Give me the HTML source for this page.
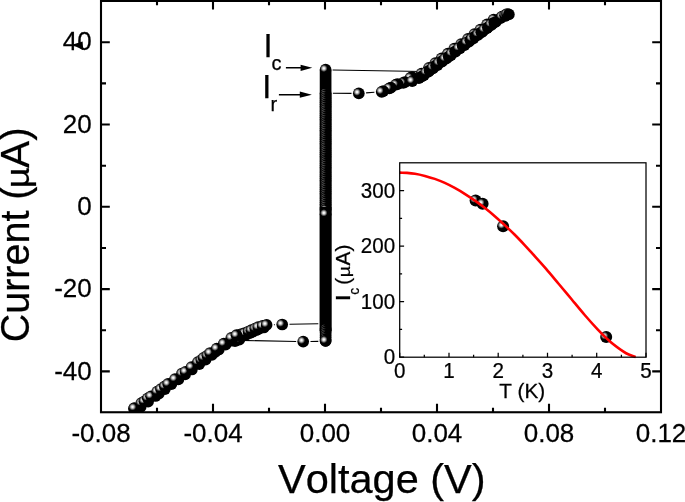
<!DOCTYPE html>
<html lang="en"><head><meta charset="utf-8"><title>Current vs Voltage</title>
<style>html,body{margin:0;padding:0;background:#fff}svg{display:block}text{font-family:"Liberation Sans",Arial,sans-serif;fill:#000;font-kerning:none;stroke:#000;stroke-width:0.25px}</style></head><body>
<svg width="685" height="502" viewBox="0 0 685 502">
<defs>
<radialGradient id="b" cx="0.348" cy="0.384" r="0.31"><stop offset="0" stop-color="#fff"/><stop offset="0.2" stop-color="#f2f2f2"/><stop offset="0.5" stop-color="#aaa"/><stop offset="0.75" stop-color="#505050"/><stop offset="1" stop-color="#000"/></radialGradient>
<radialGradient id="b2" cx="0.36" cy="0.384" r="0.285"><stop offset="0" stop-color="#fff"/><stop offset="0.2" stop-color="#f2f2f2"/><stop offset="0.5" stop-color="#aaa"/><stop offset="0.75" stop-color="#505050"/><stop offset="1" stop-color="#000"/></radialGradient>
<clipPath id="cp"><rect x="101" y="0" width="560" height="412.25"/></clipPath>
</defs>
<rect x="0" y="0" width="685" height="502" fill="#fff"/>
<g clip-path="url(#cp)">
<line x1="332.6" y1="70.0" x2="423.0" y2="71.5" stroke="#000" stroke-width="1.15"/>
<line x1="332.9" y1="93.3" x2="351.5" y2="93.4" stroke="#000" stroke-width="1.15"/>
<line x1="366.1" y1="92.9" x2="374.4" y2="92.3" stroke="#000" stroke-width="1.15"/>
<line x1="318.3" y1="323.8" x2="289.5" y2="324.3" stroke="#000" stroke-width="1.15"/>
<line x1="274.9" y1="324.7" x2="273.9" y2="324.7" stroke="#000" stroke-width="1.15"/>
<line x1="318.3" y1="341.4" x2="310.5" y2="341.5" stroke="#000" stroke-width="1.15"/>
<line x1="296.2" y1="341.5" x2="240.0" y2="340.4" stroke="#000" stroke-width="1.15"/>
<circle cx="424.0" cy="75.1" r="5.85" fill="url(#b)"/>
<circle cx="428.5" cy="71.7" r="5.85" fill="url(#b)"/>
<circle cx="433.0" cy="68.4" r="5.85" fill="url(#b)"/>
<circle cx="437.5" cy="65.0" r="5.85" fill="url(#b)"/>
<circle cx="442.0" cy="61.7" r="5.85" fill="url(#b)"/>
<circle cx="446.5" cy="58.3" r="5.85" fill="url(#b)"/>
<circle cx="451.0" cy="55.0" r="5.85" fill="url(#b)"/>
<circle cx="455.5" cy="51.6" r="5.85" fill="url(#b)"/>
<circle cx="460.0" cy="48.3" r="5.85" fill="url(#b)"/>
<circle cx="464.5" cy="45.0" r="5.85" fill="url(#b)"/>
<circle cx="469.0" cy="41.6" r="5.85" fill="url(#b)"/>
<circle cx="473.5" cy="38.3" r="5.85" fill="url(#b)"/>
<circle cx="478.0" cy="34.9" r="5.85" fill="url(#b)"/>
<circle cx="482.5" cy="31.6" r="5.85" fill="url(#b)"/>
<circle cx="487.0" cy="28.2" r="5.85" fill="url(#b)"/>
<circle cx="491.5" cy="24.9" r="5.85" fill="url(#b)"/>
<circle cx="496.0" cy="21.5" r="5.85" fill="url(#b)"/>
<circle cx="500.5" cy="18.2" r="5.85" fill="url(#b)"/>
<circle cx="505.0" cy="16.0" r="5.85" fill="url(#b)"/>
<circle cx="235.0" cy="341.2" r="5.85" fill="url(#b)"/>
<circle cx="239.3" cy="339.6" r="5.85" fill="url(#b)"/>
<circle cx="242.7" cy="335.8" r="5.85" fill="url(#b)"/>
<circle cx="245.9" cy="334.8" r="5.85" fill="url(#b)"/>
<circle cx="249.7" cy="333.1" r="5.85" fill="url(#b)"/>
<circle cx="252.6" cy="331.8" r="5.85" fill="url(#b)"/>
<circle cx="256.4" cy="330.1" r="5.85" fill="url(#b)"/>
<circle cx="259.4" cy="328.7" r="5.85" fill="url(#b)"/>
<circle cx="263.8" cy="327.5" r="5.85" fill="url(#b)"/>
<circle cx="238.8" cy="335.1" r="5.85" fill="url(#b)"/>
<circle cx="231.5" cy="340.7" r="5.85" fill="url(#b)"/>
<circle cx="225.6" cy="344.7" r="5.85" fill="url(#b)"/>
<circle cx="218.8" cy="349.5" r="5.85" fill="url(#b)"/>
<circle cx="215.3" cy="351.9" r="5.85" fill="url(#b)"/>
<circle cx="211.9" cy="354.8" r="5.85" fill="url(#b)"/>
<circle cx="205.6" cy="359.7" r="5.85" fill="url(#b)"/>
<circle cx="199.3" cy="364.2" r="5.85" fill="url(#b)"/>
<circle cx="191.9" cy="369.5" r="5.85" fill="url(#b)"/>
<circle cx="185.1" cy="374.4" r="5.85" fill="url(#b)"/>
<circle cx="178.4" cy="379.4" r="5.85" fill="url(#b)"/>
<circle cx="171.4" cy="384.2" r="5.85" fill="url(#b)"/>
<circle cx="164.9" cy="389.1" r="5.85" fill="url(#b)"/>
<circle cx="158.8" cy="393.7" r="5.85" fill="url(#b)"/>
<circle cx="155.5" cy="396.0" r="5.85" fill="url(#b)"/>
<circle cx="148.1" cy="401.7" r="5.85" fill="url(#b)"/>
<circle cx="140.7" cy="406.8" r="5.85" fill="url(#b)"/>
<circle cx="421.5" cy="73.6" r="5.85" fill="url(#b)"/>
<circle cx="429.0" cy="67.8" r="5.85" fill="url(#b)"/>
<circle cx="435.3" cy="63.1" r="5.85" fill="url(#b)"/>
<circle cx="441.6" cy="58.4" r="5.85" fill="url(#b)"/>
<circle cx="447.9" cy="53.7" r="5.85" fill="url(#b)"/>
<circle cx="454.3" cy="48.6" r="5.85" fill="url(#b)"/>
<circle cx="461.1" cy="44.1" r="5.85" fill="url(#b)"/>
<circle cx="468.0" cy="38.9" r="5.85" fill="url(#b)"/>
<circle cx="474.4" cy="34.1" r="5.85" fill="url(#b)"/>
<circle cx="480.4" cy="29.6" r="5.85" fill="url(#b)"/>
<circle cx="487.1" cy="24.4" r="5.85" fill="url(#b)"/>
<circle cx="493.7" cy="19.5" r="5.85" fill="url(#b)"/>
<circle cx="134.0" cy="408.7" r="5.85" fill="url(#b)"/>
<circle cx="134.3" cy="408.2" r="5.85" fill="url(#b)"/>
<circle cx="141.3" cy="403.2" r="5.85" fill="url(#b)"/>
<circle cx="144.4" cy="401.3" r="5.85" fill="url(#b)"/>
<circle cx="147.8" cy="398.3" r="5.85" fill="url(#b)"/>
<circle cx="151.0" cy="396.3" r="5.85" fill="url(#b)"/>
<circle cx="157.2" cy="391.6" r="5.85" fill="url(#b)"/>
<circle cx="160.9" cy="389.1" r="5.85" fill="url(#b)"/>
<circle cx="164.8" cy="386.4" r="5.85" fill="url(#b)"/>
<circle cx="168.1" cy="383.9" r="5.85" fill="url(#b)"/>
<circle cx="175.0" cy="379.1" r="5.85" fill="url(#b)"/>
<circle cx="182.0" cy="373.5" r="5.85" fill="url(#b)"/>
<circle cx="185.5" cy="371.8" r="5.85" fill="url(#b)"/>
<circle cx="191.5" cy="367.1" r="5.85" fill="url(#b)"/>
<circle cx="197.9" cy="362.2" r="5.85" fill="url(#b)"/>
<circle cx="201.2" cy="360.1" r="5.85" fill="url(#b)"/>
<circle cx="203.6" cy="357.8" r="5.85" fill="url(#b)"/>
<circle cx="207.3" cy="355.6" r="5.85" fill="url(#b)"/>
<circle cx="210.1" cy="353.0" r="5.85" fill="url(#b)"/>
<circle cx="216.7" cy="348.6" r="5.85" fill="url(#b)"/>
<circle cx="223.8" cy="343.7" r="5.85" fill="url(#b)"/>
<circle cx="231.3" cy="337.8" r="5.85" fill="url(#b)"/>
<circle cx="418.9" cy="78.2" r="5.85" fill="url(#b)"/>
<circle cx="421.9" cy="76.3" r="5.85" fill="#000"/>
<circle cx="426.3" cy="72.4" r="5.85" fill="url(#b)"/>
<circle cx="429.5" cy="70.4" r="5.85" fill="#000"/>
<circle cx="433.0" cy="67.4" r="5.85" fill="url(#b)"/>
<circle cx="436.0" cy="65.4" r="5.85" fill="#000"/>
<circle cx="439.0" cy="62.9" r="5.85" fill="url(#b)"/>
<circle cx="442.3" cy="60.8" r="5.85" fill="#000"/>
<circle cx="445.2" cy="58.8" r="5.85" fill="url(#b)"/>
<circle cx="448.7" cy="56.5" r="5.85" fill="#000"/>
<circle cx="451.7" cy="53.5" r="5.85" fill="url(#b)"/>
<circle cx="455.1" cy="51.4" r="5.85" fill="#000"/>
<circle cx="458.9" cy="48.2" r="5.85" fill="url(#b)"/>
<circle cx="462.6" cy="45.7" r="5.85" fill="#000"/>
<circle cx="466.8" cy="42.5" r="5.85" fill="url(#b)"/>
<circle cx="470.2" cy="40.2" r="5.85" fill="#000"/>
<circle cx="471.8" cy="38.6" r="5.85" fill="url(#b)"/>
<circle cx="475.1" cy="36.4" r="5.85" fill="#000"/>
<circle cx="478.1" cy="34.3" r="5.85" fill="url(#b)"/>
<circle cx="481.2" cy="32.3" r="5.85" fill="#000"/>
<circle cx="484.4" cy="29.7" r="5.85" fill="url(#b)"/>
<circle cx="487.8" cy="27.4" r="5.85" fill="#000"/>
<circle cx="491.1" cy="24.4" r="5.85" fill="url(#b)"/>
<circle cx="494.2" cy="22.5" r="5.85" fill="#000"/>
<circle cx="502.0" cy="16.6" r="5.85" fill="url(#b)"/>
<circle cx="505.0" cy="15.3" r="5.85" fill="url(#b)"/>
<circle cx="507.0" cy="14.0" r="5.85" fill="url(#b)"/>
<circle cx="508.9" cy="14.4" r="5.85" fill="#000"/>
<circle cx="241.5" cy="334.2" r="5.85" fill="url(#b)"/>
<circle cx="244.7" cy="333.2" r="5.85" fill="url(#b)"/>
<circle cx="248.5" cy="331.5" r="5.85" fill="url(#b)"/>
<circle cx="251.4" cy="330.2" r="5.85" fill="url(#b)"/>
<circle cx="255.2" cy="328.5" r="5.85" fill="url(#b)"/>
<circle cx="258.2" cy="327.1" r="5.85" fill="url(#b)"/>
<circle cx="262.6" cy="325.9" r="5.85" fill="url(#b)"/>
<circle cx="266.6" cy="324.9" r="5.85" fill="url(#b)"/>
<circle cx="412.0" cy="77.2" r="5.85" fill="#000"/>
<circle cx="410.4" cy="77.9" r="5.85" fill="url(#b)"/>
<circle cx="404.8" cy="82.2" r="5.85" fill="#000"/>
<circle cx="403.2" cy="82.9" r="5.85" fill="url(#b)"/>
<circle cx="397.6" cy="84.0" r="5.85" fill="#000"/>
<circle cx="396.0" cy="84.7" r="5.85" fill="url(#b)"/>
<circle cx="390.9" cy="87.6" r="5.85" fill="#000"/>
<circle cx="389.3" cy="88.3" r="5.85" fill="url(#b)"/>
<circle cx="383.3" cy="91.1" r="5.85" fill="#000"/>
<circle cx="381.7" cy="91.8" r="5.85" fill="url(#b)"/>
<circle cx="282.2" cy="324.5" r="5.85" fill="url(#b)"/>
<circle cx="303.2" cy="341.6" r="5.85" fill="url(#b)"/>
<circle cx="358.8" cy="93.4" r="5.85" fill="url(#b)"/>
<rect x="319.75" y="69.7" width="11.7" height="262" fill="#000"/>
<circle cx="325.6" cy="69.7" r="5.85" fill="url(#b)"/>
<circle cx="325.6" cy="93.3" r="5.85" fill="url(#b2)"/>
<circle cx="325.6" cy="95.1" r="5.85" fill="url(#b2)"/>
<circle cx="325.6" cy="97.0" r="5.85" fill="url(#b2)"/>
<circle cx="325.6" cy="98.8" r="5.85" fill="url(#b2)"/>
<circle cx="325.6" cy="100.7" r="5.85" fill="url(#b2)"/>
<circle cx="325.6" cy="102.5" r="5.85" fill="url(#b2)"/>
<circle cx="325.6" cy="104.4" r="5.85" fill="url(#b2)"/>
<circle cx="325.6" cy="106.2" r="5.85" fill="url(#b2)"/>
<circle cx="325.6" cy="108.1" r="5.85" fill="url(#b2)"/>
<circle cx="325.6" cy="109.9" r="5.85" fill="url(#b2)"/>
<circle cx="325.6" cy="111.8" r="5.85" fill="url(#b2)"/>
<circle cx="325.6" cy="113.6" r="5.85" fill="url(#b2)"/>
<circle cx="325.6" cy="115.5" r="5.85" fill="url(#b2)"/>
<circle cx="325.6" cy="117.3" r="5.85" fill="url(#b2)"/>
<circle cx="325.6" cy="119.2" r="5.85" fill="url(#b2)"/>
<circle cx="325.6" cy="121.0" r="5.85" fill="url(#b2)"/>
<circle cx="325.6" cy="122.9" r="5.85" fill="url(#b2)"/>
<circle cx="325.6" cy="124.7" r="5.85" fill="url(#b2)"/>
<circle cx="325.6" cy="126.6" r="5.85" fill="url(#b2)"/>
<circle cx="325.6" cy="128.4" r="5.85" fill="url(#b2)"/>
<circle cx="325.6" cy="130.3" r="5.85" fill="url(#b2)"/>
<circle cx="325.6" cy="132.1" r="5.85" fill="url(#b2)"/>
<circle cx="325.6" cy="134.0" r="5.85" fill="url(#b2)"/>
<circle cx="325.6" cy="135.8" r="5.85" fill="url(#b2)"/>
<circle cx="325.6" cy="137.7" r="5.85" fill="url(#b2)"/>
<circle cx="325.6" cy="139.5" r="5.85" fill="url(#b2)"/>
<circle cx="325.6" cy="141.4" r="5.85" fill="url(#b2)"/>
<circle cx="325.6" cy="143.2" r="5.85" fill="url(#b2)"/>
<circle cx="325.6" cy="145.1" r="5.85" fill="url(#b2)"/>
<circle cx="325.6" cy="146.9" r="5.85" fill="url(#b2)"/>
<circle cx="325.6" cy="148.8" r="5.85" fill="url(#b2)"/>
<circle cx="325.6" cy="150.6" r="5.85" fill="url(#b2)"/>
<circle cx="325.6" cy="152.5" r="5.85" fill="url(#b2)"/>
<circle cx="325.6" cy="154.3" r="5.85" fill="url(#b2)"/>
<circle cx="325.6" cy="156.2" r="5.85" fill="url(#b2)"/>
<circle cx="325.6" cy="158.0" r="5.85" fill="url(#b2)"/>
<circle cx="325.6" cy="159.9" r="5.85" fill="url(#b2)"/>
<circle cx="325.6" cy="161.7" r="5.85" fill="url(#b2)"/>
<circle cx="325.6" cy="163.6" r="5.85" fill="url(#b2)"/>
<circle cx="325.6" cy="165.4" r="5.85" fill="url(#b2)"/>
<circle cx="325.6" cy="167.3" r="5.85" fill="url(#b2)"/>
<circle cx="325.6" cy="169.1" r="5.85" fill="url(#b2)"/>
<circle cx="325.6" cy="171.0" r="5.85" fill="url(#b2)"/>
<circle cx="325.6" cy="172.8" r="5.85" fill="url(#b2)"/>
<circle cx="325.6" cy="174.7" r="5.85" fill="url(#b2)"/>
<circle cx="325.6" cy="176.5" r="5.85" fill="url(#b2)"/>
<circle cx="325.6" cy="178.4" r="5.85" fill="url(#b2)"/>
<circle cx="325.6" cy="180.2" r="5.85" fill="url(#b2)"/>
<circle cx="325.6" cy="182.1" r="5.85" fill="url(#b2)"/>
<circle cx="325.6" cy="183.9" r="5.85" fill="url(#b2)"/>
<circle cx="325.6" cy="185.8" r="5.85" fill="url(#b2)"/>
<circle cx="325.6" cy="187.6" r="5.85" fill="url(#b2)"/>
<circle cx="325.6" cy="189.5" r="5.85" fill="url(#b2)"/>
<circle cx="325.6" cy="191.3" r="5.85" fill="url(#b2)"/>
<circle cx="325.6" cy="193.2" r="5.85" fill="url(#b2)"/>
<circle cx="325.6" cy="195.0" r="5.85" fill="url(#b2)"/>
<circle cx="325.6" cy="196.9" r="5.85" fill="url(#b2)"/>
<circle cx="325.6" cy="198.7" r="5.85" fill="url(#b2)"/>
<circle cx="325.6" cy="200.6" r="5.85" fill="url(#b2)"/>
<circle cx="325.6" cy="202.4" r="5.85" fill="url(#b2)"/>
<circle cx="325.6" cy="204.3" r="5.85" fill="url(#b2)"/>
<circle cx="325.6" cy="206.1" r="5.85" fill="url(#b2)"/>
<circle cx="325.6" cy="208.0" r="5.85" fill="url(#b2)"/>
<circle cx="325.6" cy="209.8" r="5.85" fill="url(#b2)"/>
<rect x="319.75" y="207" width="11.7" height="124" fill="#000"/>
<circle cx="325.6" cy="329.0" r="5.85" fill="url(#b2)"/>
<circle cx="325.6" cy="330.7" r="5.85" fill="url(#b2)"/>
<circle cx="325.6" cy="332.4" r="5.85" fill="url(#b2)"/>
<circle cx="325.6" cy="334.1" r="5.85" fill="url(#b2)"/>
<circle cx="325.6" cy="335.8" r="5.85" fill="url(#b2)"/>
<circle cx="325.6" cy="337.5" r="5.85" fill="url(#b2)"/>
<circle cx="325.6" cy="339.2" r="5.85" fill="url(#b2)"/>
<circle cx="325.6" cy="340.9" r="5.85" fill="url(#b2)"/>
<circle cx="325.6" cy="340.9" r="5.85" fill="url(#b)"/>
<circle cx="325.6" cy="214.2" r="5.85" fill="url(#b)"/>
<circle cx="412.2" cy="81.1" r="5.85" fill="url(#b)"/>
<circle cx="236.5" cy="335.2" r="5.85" fill="url(#b)"/>
</g>
<rect x="101" y="0.95" width="560" height="411.3" fill="none" stroke="#000" stroke-width="2.1"/>
<path d="M157.0 412.25v-4.4M157.0 0.95v4.4M213.0 412.25v-8.6M213.0 0.95v8.6M269.0 412.25v-4.4M269.0 0.95v4.4M325.0 412.25v-8.6M325.0 0.95v8.6M381.0 412.25v-4.4M381.0 0.95v4.4M437.0 412.25v-8.6M437.0 0.95v8.6M493.0 412.25v-4.4M493.0 0.95v4.4M549.0 412.25v-8.6M549.0 0.95v8.6M605.0 412.25v-4.4M605.0 0.95v4.4M101 371.4h8.8M661 371.4h-8.8M101 330.2h5M661 330.2h-5M101 289.1h8.8M661 289.1h-8.8M101 248.0h5M661 248.0h-5M101 206.8h8.8M661 206.8h-8.8M101 165.7h5M661 165.7h-5M101 124.5h8.8M661 124.5h-8.8M101 83.4h5M661 83.4h-5M101 42.2h8.8M661 42.2h-8.8" stroke="#000" stroke-width="2.1" fill="none"/>
<text transform="translate(101.0,442.4) scale(0.977,1)" font-size="26.6" text-anchor="middle">-0.08</text>
<text transform="translate(213.0,442.4) scale(0.977,1)" font-size="26.6" text-anchor="middle">-0.04</text>
<text transform="translate(325.0,442.4) scale(0.977,1)" font-size="26.6" text-anchor="middle">0.00</text>
<text transform="translate(437.0,442.4) scale(0.977,1)" font-size="26.6" text-anchor="middle">0.04</text>
<text transform="translate(549.0,442.4) scale(0.977,1)" font-size="26.6" text-anchor="middle">0.08</text>
<text transform="translate(661.0,442.4) scale(0.977,1)" font-size="26.6" text-anchor="middle">0.12</text>
<text transform="translate(91.7,50.4) scale(0.977,1)" font-size="26.6" text-anchor="end">40</text>
<text transform="translate(91.7,132.7) scale(0.977,1)" font-size="26.6" text-anchor="end">20</text>
<text transform="translate(91.7,215.0) scale(0.977,1)" font-size="26.6" text-anchor="end">0</text>
<text transform="translate(91.7,297.3) scale(0.977,1)" font-size="26.6" text-anchor="end">-20</text>
<text transform="translate(91.7,379.6) scale(0.977,1)" font-size="26.6" text-anchor="end">-40</text>
<path d="M72.0 44.7 L82.6 41.6 L83.2 49.9 Z" fill="#000"/>
<text x="278" y="493.3" font-size="41.2" textLength="207.6" lengthAdjust="spacingAndGlyphs">Voltage (V)</text>
<text transform="translate(28.9,342.3) rotate(-90)" font-size="41"><tspan x="0" y="0" textLength="155.77" lengthAdjust="spacingAndGlyphs">Current (</tspan><tspan x="154.1" y="0" font-size="33" textLength="20.92" lengthAdjust="spacingAndGlyphs">µ</tspan><tspan x="174.4" y="0" textLength="40.59" lengthAdjust="spacingAndGlyphs">A)</tspan></text>
<text x="263.6" y="56.9" font-size="32.6">I<tspan x="271.6" y="70" font-size="20">c</tspan></text>
<text x="262.2" y="97.7" font-size="32.6">I<tspan x="270.6" y="110.5" font-size="20">r</tspan></text>
<path d="M285.9 67.8H302M278.9 94.7H301" stroke="#000" stroke-width="1.4" fill="none"/>
<path d="M312.3 67.8L300.6 64.7L300.6 70.9ZM311.9 94.7L299.8 91.6L299.8 97.8Z" fill="#000"/>
<rect x="399.7" y="162.8" width="246.3" height="194.39999999999998" fill="#fff" stroke="none"/>
<circle cx="475.6" cy="200.4" r="6" fill="url(#b)"/>
<circle cx="482.6" cy="203.8" r="6" fill="url(#b)"/>
<circle cx="503.1" cy="226.3" r="6" fill="url(#b)"/>
<circle cx="606.2" cy="337.0" r="6" fill="url(#b)"/>
<path d="M399.7 172.6C400.9 172.7 404.5 172.7 407.0 172.9C409.5 173.1 411.9 173.3 414.9 173.8C417.9 174.3 421.6 175.1 424.9 175.9C428.2 176.8 431.5 177.7 434.8 178.9C438.1 180.1 441.5 181.4 444.8 182.9C448.1 184.4 451.4 186.1 454.7 187.9C458.0 189.7 461.4 191.7 464.7 193.8C468.0 195.9 471.3 198.1 474.6 200.4C477.9 202.7 481.3 205.2 484.6 207.8C487.9 210.4 491.2 213.1 494.5 215.9C497.8 218.8 501.2 221.8 504.5 224.9C507.8 228.0 511.2 231.2 514.5 234.5C517.8 237.8 521.3 241.5 524.4 244.8C527.5 248.1 529.3 250.2 532.9 254.2C536.5 258.2 541.6 263.7 545.9 268.7C550.2 273.7 554.5 278.9 558.8 284.0C563.1 289.1 567.5 294.3 571.8 299.5C576.1 304.7 580.4 310.0 584.7 315.0C589.0 320.0 593.3 324.8 597.6 329.3C601.9 333.8 606.3 338.2 610.6 341.9C614.9 345.6 620.3 349.4 623.5 351.6C626.7 353.8 628.0 354.1 630.0 355.0C632.0 355.9 634.8 356.7 635.7 357.0" stroke="#f00" stroke-width="2.6" fill="none" stroke-linecap="butt"/>
<rect x="399.7" y="162.8" width="246.3" height="194.39999999999998" fill="none" stroke="#000" stroke-width="1.25"/>
<path d="M399.7 357.2v-4.4M424.3 357.2v-2.4M449.0 357.2v-4.4M473.6 357.2v-2.4M498.2 357.2v-4.4M522.9 357.2v-2.4M547.5 357.2v-4.4M572.1 357.2v-2.4M596.7 357.2v-4.4M621.4 357.2v-2.4M646.0 357.2v-4.4M399.7 357.2h4.4M399.7 329.4h2.4M399.7 301.7h4.4M399.7 273.9h2.4M399.7 246.1h4.4M399.7 218.3h2.4M399.7 190.6h4.4" stroke="#000" stroke-width="1.25" fill="none"/>
<text transform="translate(399.7,377.6) scale(0.94,1)" font-size="21.9" text-anchor="middle">0</text>
<text transform="translate(449.0,377.6) scale(0.94,1)" font-size="21.9" text-anchor="middle">1</text>
<text transform="translate(498.2,377.6) scale(0.94,1)" font-size="21.9" text-anchor="middle">2</text>
<text transform="translate(547.5,377.6) scale(0.94,1)" font-size="21.9" text-anchor="middle">3</text>
<text transform="translate(596.7,377.6) scale(0.94,1)" font-size="21.9" text-anchor="middle">4</text>
<text transform="translate(646.0,377.6) scale(0.94,1)" font-size="21.9" text-anchor="middle">5</text>
<text transform="translate(395.1,364.2) scale(0.94,1)" font-size="21.9" text-anchor="end">0</text>
<text transform="translate(395.1,308.7) scale(0.94,1)" font-size="21.9" text-anchor="end">100</text>
<text transform="translate(395.1,253.1) scale(0.94,1)" font-size="21.9" text-anchor="end">200</text>
<text transform="translate(395.1,197.6) scale(0.94,1)" font-size="21.9" text-anchor="end">300</text>
<text transform="translate(499.2,398.4) scale(0.985,1)" font-size="21.0" text-anchor="start">T (K)</text>
<text transform="translate(349.9,300.1) rotate(-90)" font-size="20.8"><tspan x="-1.5" y="0" textLength="7.6" lengthAdjust="spacingAndGlyphs">I</tspan><tspan x="5.4" y="8.6" font-size="13.8">c</tspan><tspan x="9.6" y="0"> (</tspan><tspan x="22.8" y="0" font-size="17.2" textLength="11.1" lengthAdjust="spacingAndGlyphs">µ</tspan><tspan x="34.7" y="0">A)</tspan></text>
</svg></body></html>
